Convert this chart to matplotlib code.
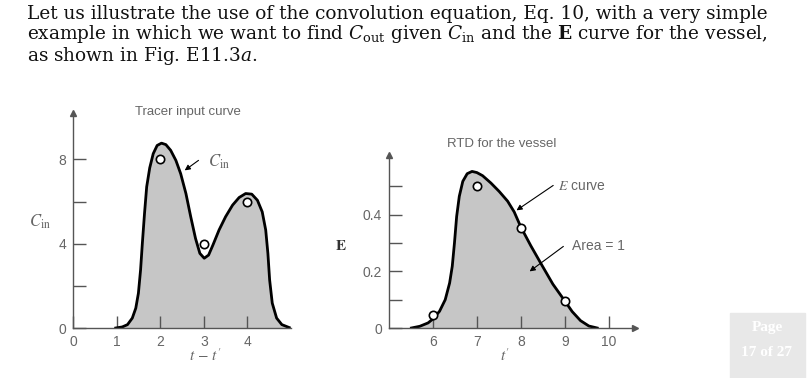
import matplotlib
matplotlib.use("Agg")
import matplotlib.pyplot as plt
from matplotlib.patches import Rectangle

# --- data ---
# tracer input curve C_in(t - t')
cin_x = [0.98, 1.13, 1.25, 1.36, 1.44, 1.50, 1.55, 1.59, 1.64, 1.69, 1.76, 1.84, 1.93, 2.03,
         2.13, 2.24, 2.36, 2.47, 2.59, 2.70, 2.81, 2.91, 3.01, 3.11, 3.21, 3.35, 3.50, 3.66,
         3.81, 3.96, 4.10, 4.23, 4.34, 4.42, 4.47, 4.51, 4.57, 4.67, 4.79, 4.96]
cin_y = [0.0, 0.05, 0.16, 0.47, 0.94, 1.65, 2.76, 4.0, 5.43, 6.7, 7.6, 8.27, 8.66, 8.77,
         8.7, 8.43, 7.95, 7.32, 6.38, 5.28, 4.25, 3.54, 3.31, 3.46, 3.94, 4.65, 5.28, 5.83,
         6.19, 6.38, 6.35, 6.06, 5.51, 4.65, 3.54, 2.28, 1.18, 0.47, 0.16, 0.02]
cin_pts_x = [2, 3, 4]
cin_pts_y = [8, 4, 6]

# RTD of the vessel, E(t')
e_x = [5.51, 5.70, 5.89, 6.0, 6.15, 6.28, 6.38, 6.44, 6.49, 6.54, 6.60, 6.68, 6.78, 6.89,
       7.0, 7.13, 7.32, 7.51, 7.70, 7.85, 8.0, 8.23, 8.48, 8.73, 9.0, 9.17, 9.36, 9.55, 9.74]
e_y = [0.0, 0.006, 0.018, 0.032, 0.059, 0.10, 0.159, 0.218, 0.30, 0.394, 0.465, 0.518, 0.545, 0.553,
       0.549, 0.538, 0.512, 0.482, 0.448, 0.41, 0.357, 0.29, 0.222, 0.155, 0.096, 0.058, 0.026, 0.007, 0.0]
e_pts_x = [6, 7, 8, 9]
e_pts_y = [0.045, 0.5, 0.352, 0.096]

cin_yticks = [0, 2, 4, 6, 8]
cin_yticklabels = ["0", "", "4", "", "8"]
cin_xticks = [0, 1, 2, 3, 4]
e_yticks = [0, 0.1, 0.2, 0.3, 0.4, 0.5]
e_yticklabels = ["0", "", "0.2", "", "0.4", ""]
e_xticks = [6, 7, 8, 9, 10]

W, H = 812, 378
GREY_TXT = "#666666"
AXIS_C = "#555555"
FILL_C = "#c6c6c6"

plt.rcParams["mathtext.fontset"] = "stix"


def fx(px):
    return px / W


def fy(py):
    return 1 - py / H


fig = plt.figure(figsize=(W / 100, H / 100), dpi=100)

# --- paragraph text above the figure (one block, three lines) ---
paragraph = "\n".join([
    "Let us illustrate the use of the convolution equation, Eq. 10, with a very simple",
    r"example in which we want to find $C_{\mathrm{out}}$ given $C_{\mathrm{in}}$ and the $\mathbf{E}$ curve for the vessel,",
    r"as shown in Fig. E11.3$a$.",
])
fig.text(fx(27), fy(5), paragraph, ha="left", va="top", family="DejaVu Serif",
         size=13.3, color="#111111", linespacing=1.0, math_fontfamily="dejavuserif")


def style_axes(ax):
    for side in ["top", "right"]:
        ax.spines[side].set_visible(False)
    for side in ["left", "bottom"]:
        ax.spines[side].set_color(AXIS_C)
        ax.spines[side].set_linewidth(1.0)
    ax.tick_params(direction="in", length=9, width=1.0, color=AXIS_C,
                   labelcolor=GREY_TXT, labelsize=10, pad=5)
    for lab in ax.get_xticklabels() + ax.get_yticklabels():
        lab.set_family("Liberation Sans")
    ax.set_facecolor("none")


# --- left panel: tracer input ---
ax1 = fig.add_axes([fx(73), 50 / H, 218 / W, 215 / H])
ax1.fill_between(cin_x, cin_y, color=FILL_C, lw=0)
ax1.plot(cin_x, cin_y, color="black", lw=2.0)
ax1.plot(cin_pts_x, cin_pts_y, "o", ms=6, mfc="white", mec="black", mew=1.2)
ax1.set_xlim(0, 5.0)
ax1.set_ylim(0, 10.2)
ax1.set_xticks(cin_xticks)
ax1.set_yticks(cin_yticks)
ax1.set_yticklabels(cin_yticklabels)
style_axes(ax1)
ax1.plot(0, 1, "^", color=AXIS_C, ms=5, transform=ax1.transAxes, clip_on=False)
ax1.annotate("", xy=(2.51, 7.4), xytext=(2.93, 8.03),
             arrowprops=dict(arrowstyle="-|>", color="black", lw=0.8, mutation_scale=8))
ax1.text(3.1, 7.9, r"$C_{\mathrm{in}}$", fontsize=12, color=GREY_TXT, va="center")

# --- right panel: RTD ---
ax2 = fig.add_axes([fx(389), 50 / H, 246 / W, 173 / H])
ax2.fill_between(e_x, e_y, color=FILL_C, lw=0)
ax2.plot(e_x, e_y, color="black", lw=2.0)
ax2.plot(e_pts_x, e_pts_y, "o", ms=6, mfc="white", mec="black", mew=1.2)
ax2.set_xlim(5.0, 10.6)
ax2.set_ylim(0, 0.611)
ax2.set_xticks(e_xticks)
ax2.set_yticks(e_yticks)
ax2.set_yticklabels(e_yticklabels)
style_axes(ax2)
ax2.plot(0, 1, "^", color=AXIS_C, ms=5, transform=ax2.transAxes, clip_on=False)
ax2.plot(1, 0, ">", color=AXIS_C, ms=5, transform=ax2.transAxes, clip_on=False)
ax2.annotate("", xy=(7.85, 0.41), xytext=(8.79, 0.509),
             arrowprops=dict(arrowstyle="-|>", color="black", lw=0.8, mutation_scale=8))
ax2.text(8.85, 0.502, r"$E$ curve", fontsize=10, color=GREY_TXT, va="center",
         family="Liberation Sans")
ax2.annotate("", xy=(8.15, 0.194), xytext=(9.02, 0.294),
             arrowprops=dict(arrowstyle="-|>", color="black", lw=0.8, mutation_scale=8))
ax2.text(9.17, 0.288, "Area = 1", fontsize=10, color=GREY_TXT, va="center",
         family="Liberation Sans")

# --- titles and axis labels ---
sans = {"family": "Liberation Sans", "size": 9.5, "color": GREY_TXT}
fig.text(fx(188), fy(112), "Tracer input curve", ha="center", va="center", fontdict=sans)
fig.text(fx(502), fy(144), "RTD for the vessel", ha="center", va="center", fontdict=sans)
fig.text(fx(40), fy(222), r"$C_{\mathrm{in}}$", ha="center", va="center", fontsize=12, color=GREY_TXT)
fig.text(fx(205), fy(356), r"$t\,-\,t'$", ha="center", va="center", fontsize=11, color=GREY_TXT)
fig.text(fx(341), fy(245), r"$\mathbf{E}$", ha="center", va="center", fontsize=11, color="#333333")
fig.text(fx(505), fy(356), r"$t'$", ha="center", va="center", fontsize=11, color=GREY_TXT)

# --- page badge ---
fig.patches.append(Rectangle((fx(730), 0), 75 / W, 65 / H, transform=fig.transFigure,
                             color="#e8e8e8", zorder=0))
fig.text(fx(767), fy(327), "Page", ha="center", va="center", color="white",
         family="Liberation Serif", weight="bold", size=11)
fig.text(fx(767), fy(352), "17 of 27", ha="center", va="center", color="white",
         family="Liberation Serif", weight="bold", size=11)

fig.savefig("out.png", dpi=100, facecolor="white")
